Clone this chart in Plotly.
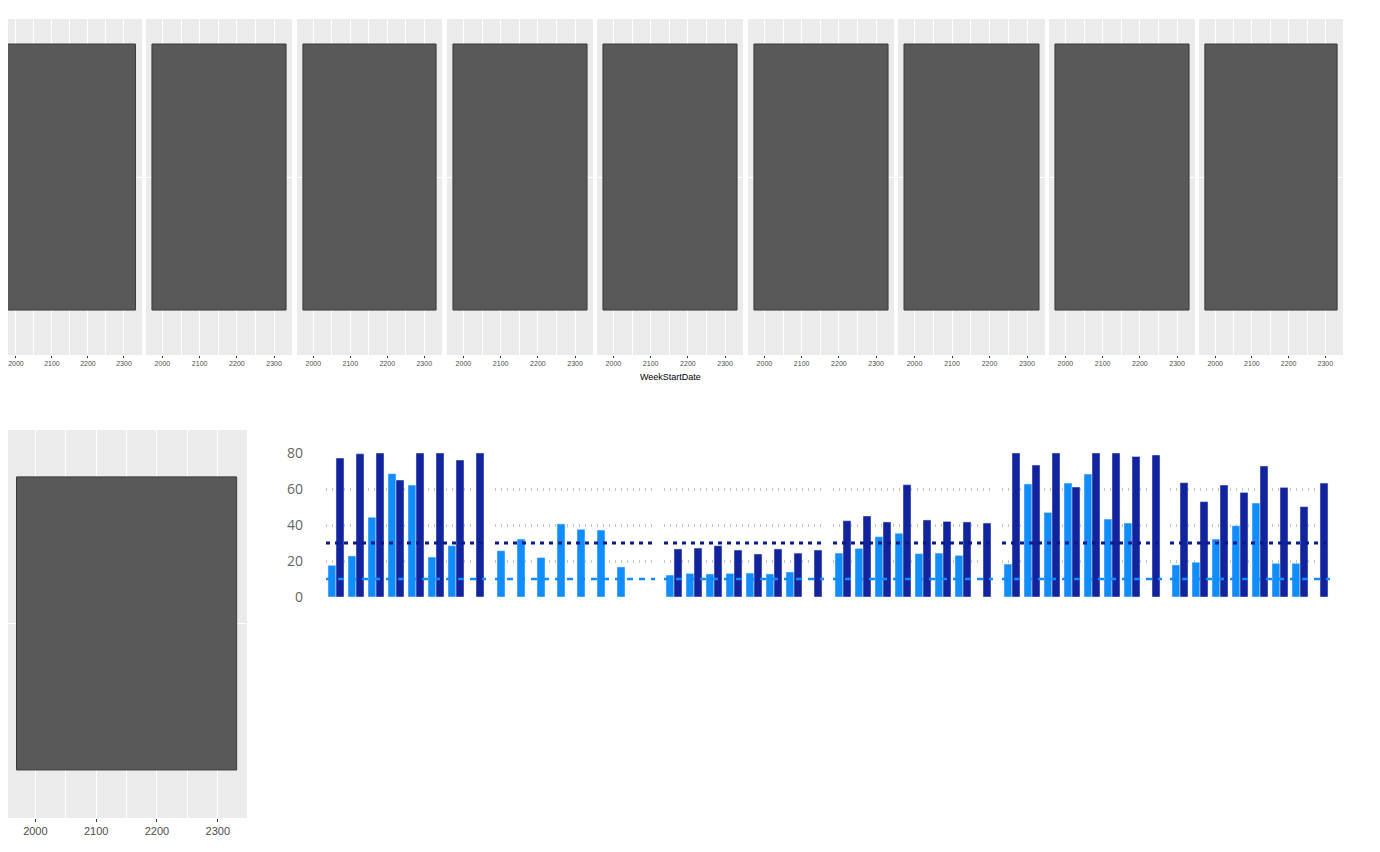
import plotly.graph_objects as go

# ---- data ----
# top facet row (9 panels) + lone panel bottom-left: one grey rect each
facet_x0 = [1972, 1972, 1972, 1972, 1972, 1972, 1972, 1972, 1972]
facet_x1 = [2332, 2332, 2332, 2332, 2332, 2332, 2332, 2332, 2332]
facet_y0 = [0, 0, 0, 0, 0, 0, 0, 0, 0]
facet_y1 = [1, 1, 1, 1, 1, 1, 1, 1, 1]
facet_ticks = [2000, 2100, 2200, 2300]

single_x0 = [1969]
single_x1 = [2331]
single_y0 = [0]
single_y1 = [1]

# small multiples (6 panels x 8 categories)
categories = ["1", "2", "3", "4", "5", "6", "7", "8"]
light_vals = [
    [17.6, 22.8, 44.3, 68.5, 62.2, 22.2, 28.5, None],
    [25.7, 32.2, 21.9, 40.6, 37.6, 37.2, 16.7, None],
    [12.2, 13.1, 12.8, 13.1, 13.3, 12.8, 13.9, None],
    [24.4, 27.0, 33.5, 35.4, 24.1, 24.4, 23.1, None],
    [18.3, 62.8, 47.0, 63.3, 68.3, 43.3, 41.1, None],
    [17.8, 19.3, 32.2, 39.6, 52.2, 18.7, 18.7, None],
]
dark_vals = [
    [77.2, 79.6, 80, 65.0, 80, 80, 76.1, 80],
    [None, None, None, None, None, None, None, None],
    [26.7, 27.2, 28.5, 26.1, 23.9, 26.7, 24.4, 26.1],
    [42.4, 45.0, 41.7, 62.4, 42.8, 42.0, 41.7, 41.1],
    [80, 73.3, 80, 61.1, 80, 80, 78.1, 78.9],
    [63.5, 53.0, 62.2, 58.1, 72.8, 60.9, 50.2, 63.3],
]
ref_dark = 30
ref_light = 10
y_ticks = [0, 20, 40, 60, 80]

LIGHT = "#118DFF"
DARK = "#12239E"
W, H = 1380, 852
PAD = 8  # page body margin, positions below are screen pixels


def px_x(a, b):
    return [max(a - PAD, 0) / W, (b - PAD) / W]


def px_y(top, bottom):
    return [1 - (bottom - PAD) / H, 1 - (top - PAD) / H]


fig = go.Figure()
layout = {}
shapes = []
k = 0


def ax_names(k):
    s = "" if k == 1 else str(k)
    return "x" + s, "y" + s, "xaxis" + s, "yaxis" + s


grey_axis = dict(
    showline=False, zeroline=False, fixedrange=True,
    gridcolor="white",
)

# --- top row of ggplot facets ---
top_dom = [(0, 142), (146, 292), (297, 442), (447, 593), (597, 743),
           (748, 894), (898, 1045), (1049, 1195), (1199, 1343)]
for i, (a, b) in enumerate(top_dom):
    k += 1
    xr, yr, xk, yk = ax_names(k)
    fig.add_trace(go.Bar(
        x=[facet_x0[i]], y=[facet_y1[i] - facet_y0[i]], base=[facet_y0[i]],
        width=[facet_x1[i] - facet_x0[i]], offset=0,
        marker=dict(color="#595959", line=dict(color="#3a3a3a", width=1)),
        xaxis=xr, yaxis=yr, hoverinfo="skip"))
    layout[xk] = dict(grey_axis, domain=px_x(a, b),
                      range=[1978, 2350] if i == 0 else [1956, 2348],
                      tickvals=facet_ticks, ticks="outside", ticklen=2,
                      tickcolor="#333333", gridwidth=1,
                      minor=dict(dtick=50, tick0=2000, showgrid=True,
                                 gridcolor="white", gridwidth=0.6),
                      tickfont=dict(size=7, color="#4d4d4d",
                                    family="Liberation Sans"),
                      anchor=yr)
    layout[yk] = dict(grey_axis, domain=px_y(19, 355), range=[-0.169, 1.094],
                      tickvals=[0.5], showticklabels=False, gridwidth=1,
                      anchor=xr)
    shapes.append(dict(type="rect", xref=xr + " domain", yref=yr + " domain",
                       x0=0, x1=1, y0=0, y1=1, fillcolor="#EBEBEB",
                       line_width=0, layer="below"))

# --- lone panel bottom-left ---
k += 1
xr, yr, xk, yk = ax_names(k)
fig.add_trace(go.Bar(
    x=[single_x0[0]], y=[single_y1[0] - single_y0[0]], base=[single_y0[0]],
    width=[single_x1[0] - single_x0[0]], offset=0,
    marker=dict(color="#595959", line=dict(color="#3a3a3a", width=1)),
    xaxis=xr, yaxis=yr, hoverinfo="skip"))
layout[xk] = dict(grey_axis, domain=px_x(3, 247), range=[1955, 2348],
                  tickvals=facet_ticks, ticks="outside", ticklen=3,
                  tickcolor="#333333", gridwidth=1.1,
                  minor=dict(dtick=50, tick0=2000, showgrid=True,
                             gridcolor="white", gridwidth=0.6),
                  tickfont=dict(size=11, color="#4d4d4d",
                                family="Liberation Sans"),
                  anchor=yr)
layout[yk] = dict(grey_axis, domain=px_y(430, 818), range=[-0.164, 1.16],
                  tickvals=[0.5], showticklabels=False, gridwidth=1.1,
                  anchor=xr)
shapes.append(dict(type="rect", xref=xr + " domain", yref=yr + " domain",
                   x0=0, x1=1, y0=0, y1=1, fillcolor="#EBEBEB",
                   line_width=0, layer="below"))

# --- Power BI style small multiples ---
pbi_starts = [326, 495, 664, 833, 1002, 1170]
for p, start in enumerate(pbi_starts):
    k += 1
    xr, yr, xk, yk = ax_names(k)
    fig.add_trace(go.Bar(x=categories, y=light_vals[p], marker_color=LIGHT,
                         name="Light", xaxis=xr, yaxis=yr))
    fig.add_trace(go.Bar(x=categories, y=dark_vals[p], marker_color=DARK,
                         name="Dark", xaxis=xr, yaxis=yr))
    layout[xk] = dict(domain=px_x(start, start + 160), type="category",
                      range=[-0.5, 7.5], showticklabels=False, showgrid=False,
                      zeroline=False, showline=False, fixedrange=True,
                      anchor=yr)
    layout[yk] = dict(domain=px_y(453, 597), range=[0, 80],
                      tickvals=y_ticks, showticklabels=(p == 0),
                      tickfont=dict(size=14, color="#666666",
                                    family="Open Sans"),
                      ticklabelstandoff=22,
                      showgrid=True, gridcolor="#C4C4C4", gridwidth=2.5,
                      griddash="1px,5px", zeroline=False, showline=False,
                      fixedrange=True, anchor=xr)
    shapes.append(dict(type="line", xref=xr + " domain", yref=yr,
                       x0=0, x1=1, y0=ref_dark, y1=ref_dark,
                       line=dict(color="#0A1A8C", width=3, dash="4px,5px"),
                       layer="above"))
    shapes.append(dict(type="line", xref=xr + " domain", yref=yr,
                       x0=0, x1=1, y0=ref_light, y1=ref_light,
                       line=dict(color=LIGHT, width=2.5, dash="6px,6px"),
                       layer="above"))

fig.update_layout(
    width=W, height=H,
    margin=dict(l=0, r=0, t=0, b=0, autoexpand=False),
    paper_bgcolor="white", plot_bgcolor="rgba(0,0,0,0)",
    showlegend=False,
    barmode="group", bargap=0.2, bargroupgap=0,
    shapes=shapes,
    annotations=[dict(text="WeekStartDate", xref="paper", yref="paper",
                      x=(670 - PAD) / W, y=1 - (377 - PAD) / H,
                      showarrow=False,
                      font=dict(size=9, color="black",
                                family="Liberation Sans"))],
    **layout,
)

fig.write_html("out.html")
